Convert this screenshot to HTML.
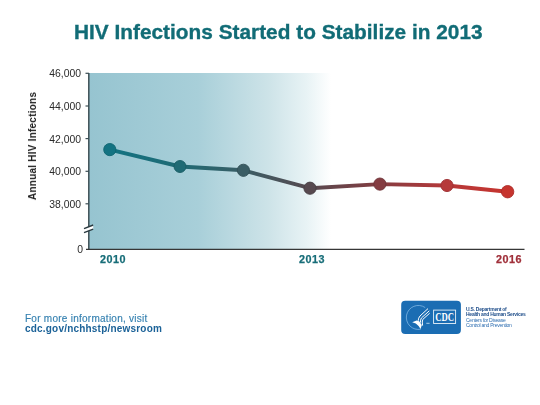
<!DOCTYPE html>
<html><head><meta charset="utf-8">
<style>
html,body{margin:0;padding:0;background:#fff;}
body{width:540px;height:405px;position:relative;overflow:hidden;font-family:"Liberation Sans",sans-serif;}
.t{position:absolute;white-space:nowrap;line-height:1;will-change:transform;}
#title{left:74.2px;top:22.1px;font-weight:bold;font-size:20.8px;letter-spacing:0.015px;color:#116c76;-webkit-text-stroke:0.35px #116c76;}
.yl{font-size:10.4px;color:#2b2b2b;text-align:right;width:60px;left:21px;}
#y0{left:22.5px;}
.xl{font-size:10.8px;font-weight:bold;width:60px;text-align:center;letter-spacing:0.5px;-webkit-text-stroke:0.25px currentColor;}
#ytitle{font-size:10px;font-weight:bold;color:#222;letter-spacing:0.23px;left:32.7px;top:146.4px;transform:translate(-50%,-50%) rotate(-90deg);}
#f1{left:25px;top:313.8px;font-size:10px;letter-spacing:0.26px;color:#3580b0;-webkit-text-stroke:0.15px #3580b0;}
#f2{left:25px;top:324.2px;font-size:10px;letter-spacing:0.2px;font-weight:bold;color:#1b6298;}
.hhs{left:465.6px;font-size:5px;letter-spacing:-0.25px;}
</style></head><body>
<svg width="540" height="405" style="position:absolute;left:0;top:0">
<defs>
<linearGradient id="bg" x1="0" x2="1" y1="0" y2="0">
<stop offset="0" stop-color="#96c4d0"/>
<stop offset="0.45" stop-color="#a8cfd9"/>
<stop offset="0.74" stop-color="#cde3e8"/>
<stop offset="0.9" stop-color="#e8f3f5"/>
<stop offset="1" stop-color="#ffffff"/>
</linearGradient>
<linearGradient id="lg" gradientUnits="userSpaceOnUse" x1="109.8" y1="0" x2="507.6" y2="0">
<stop offset="0" stop-color="#137382"/>
<stop offset="0.177" stop-color="#1f6a74"/>
<stop offset="0.336" stop-color="#3a5d65"/>
<stop offset="0.503" stop-color="#57494f"/>
<stop offset="0.68" stop-color="#853c41"/>
<stop offset="0.845" stop-color="#b6393a"/>
<stop offset="1" stop-color="#c6342e"/>
</linearGradient>
</defs>
<rect x="89" y="73" width="242" height="176" fill="url(#bg)"/>
<!-- y axis -->
<line x1="88.8" y1="73" x2="88.8" y2="250" stroke="#3d4f55" stroke-width="1.5"/>
<line x1="86" y1="249.4" x2="524.5" y2="249.4" stroke="#363636" stroke-width="1.35"/>
<g stroke="#3d4f55" stroke-width="1.2">
<line x1="85.5" y1="73.3" x2="89" y2="73.3"/>
<line x1="85.5" y1="106" x2="89" y2="106"/>
<line x1="85.5" y1="138.6" x2="89" y2="138.6"/>
<line x1="85.5" y1="171.3" x2="89" y2="171.3"/>
<line x1="85.5" y1="203.8" x2="89" y2="203.8"/>
</g>
<!-- break -->
<polygon points="84,228.6 93.2,225 93.2,229.1 84,232.7" fill="#fff"/>
<g stroke="#2a3a40" stroke-width="1.4">
<line x1="84" y1="228.6" x2="93.2" y2="225"/>
<line x1="84" y1="232.7" x2="93.2" y2="229.1"/>
</g>
<polyline points="109.8,149.6 180,166.5 243.4,170.3 310,188.2 379.9,184.1 447,185.5 507.6,191.7" fill="none" stroke="url(#lg)" stroke-width="3.9" stroke-linejoin="round"/>
<g stroke-width="0.9">
<circle cx="109.8" cy="149.6" r="6.1" fill="#137382" stroke="#0f6470"/>
<circle cx="180" cy="166.5" r="6" fill="#1f6a74" stroke="#195c64"/>
<circle cx="243.4" cy="170.3" r="6.1" fill="#3a5d65" stroke="#324f56"/>
<circle cx="310" cy="188.2" r="6.1" fill="#57494f" stroke="#463e43"/>
<circle cx="379.9" cy="184.1" r="6.1" fill="#853c41" stroke="#6e3338"/>
<circle cx="447" cy="185.5" r="6.1" fill="#b6393a" stroke="#9e3033"/>
<circle cx="507.6" cy="191.7" r="6.2" fill="#c6342e" stroke="#ac2b29"/>
</g>
<!-- CDC logo -->
<rect x="401.2" y="300.8" width="59.7" height="33.1" rx="4" fill="#1b6db3"/>
<rect x="433.6" y="310.1" width="22" height="13.4" fill="none" stroke="#e8f2fa" stroke-width="0.9"/>
<text x="435.2" y="320.6" textLength="18.8" lengthAdjust="spacingAndGlyphs" font-family="Liberation Serif" font-weight="bold" font-size="11.5" fill="#fff">CDC</text>
<path d="M425.2 307.6 A12 12 0 1 0 420.8 329.2" fill="none" stroke="#7fb6e3" stroke-width="0.8"/>
<path d="M428 308.6 L420 316 Q418.2 318 418.2 320.8 M429.3 310.8 L421.4 318 Q420.2 320 420.5 322.6 M429.7 313.2 L422.8 319.4 Q421.8 321.6 422.6 325.6" fill="none" stroke="#fff" stroke-width="1"/>
<path d="M412.2 322.2 L416.6 320.4 L419.2 321.2 L421.8 325 L420.6 329 L418.6 326 L415.8 323.6 Z" fill="#fff"/>
<path d="M426.3 323.3 L429.6 323.3" stroke="#cfe4f5" stroke-width="0.8"/>
</svg>
<div id="title" class="t">HIV Infections Started to Stabilize in 2013</div>
<div class="t yl" style="top:69px">46,000</div>
<div class="t yl" style="top:102px">44,000</div>
<div class="t yl" style="top:134.5px">42,000</div>
<div class="t yl" style="top:167px">40,000</div>
<div class="t yl" style="top:199.5px">38,000</div>
<div id="y0" class="t yl" style="top:245px">0</div>
<div class="t xl" style="left:83px;top:254.3px;color:#176d78">2010</div>
<div class="t xl" style="left:281.5px;top:254.3px;color:#176d78">2013</div>
<div class="t xl" style="left:479px;top:254.3px;color:#a0303a">2016</div>
<div id="ytitle" class="t">Annual HIV Infections</div>
<div id="f1" class="t">For more information, visit</div>
<div id="f2" class="t">cdc.gov/nchhstp/newsroom</div>
<div class="t hhs" style="top:306.8px;font-weight:bold;color:#1f4e8a">U.S. Department of</div>
<div class="t hhs" style="top:312px;font-weight:bold;color:#1f4e8a">Health and Human Services</div>
<div class="t hhs" style="top:317.8px;color:#2d6db0">Centers for Disease</div>
<div class="t hhs" style="top:323.3px;color:#2d6db0">Control and Prevention</div>
</body></html>
